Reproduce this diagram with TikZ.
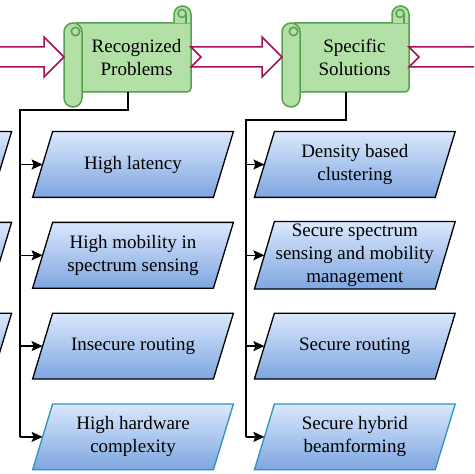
\documentclass[tikz,border=0pt]{standalone}
\usepackage{fontspec}
\setmainfont{Liberation Serif}
\usetikzlibrary{arrows.meta, positioning, calc}
\pgfdeclarelayer{background}
\pgfsetlayers{background,main}
\definecolor{flowpurple}{HTML}{A50F5A}
\definecolor{scrollfill}{HTML}{B3E0A6}
\definecolor{scrolledge}{HTML}{57A14E}
\definecolor{paratop}{HTML}{DAE8FC}
\definecolor{parabot}{HTML}{7EA6E0}
\definecolor{paraedge}{HTML}{2F93C0}
\newcommand{\diagfont}{\rmfamily\fontsize{9.5}{11.5}\selectfont}
\tikzset{
  para/.style   ={rectangle, minimum width=90pt, minimum height=32.5pt,
                  inner sep=1pt, align=center, font=\diagfont},
  paraframe/.style={draw=black, line width=0.65pt,
                  top color=paratop, bottom color=parabot},
  scrl/.style   ={minimum width=54.5pt, minimum height=34.5pt, inner sep=0pt,
                  align=center, font=\diagfont},
  scrollbody/.style={draw=scrolledge, fill=scrollfill, line width=0.75pt},
  flex/.style   ={draw=flowpurple, fill=white, line width=0.75pt, line join=miter},
  tree/.style   ={draw=black, line width=0.65pt},
  arr/.style    ={tree, -{Stealth[length=5.5pt, width=5pt, inset=1pt]}}
}
% scroll: name, centre of the text area, text
\newcommand{\scrollbox}[3]{%
  \begin{scope}[shift={(#2)}]
    \draw[scrollbody] (-60,34.5) -- (54.5,34.5) -- (54.5,-30.5)
      arc[start angle=0, end angle=-90, radius=2pt] -- (-60,-34.5) -- cycle;
    \filldraw[scrollbody] (37.5,34.5) -- (37.5,43)
      arc[start angle=180, end angle=0, radius=4.25pt] -- (54.5,34.5);
    \draw[scrollbody] (45.5,44) circle[radius=2pt];
    \draw[scrollbody] (49.5,44) -- (49.5,34.5);
    \filldraw[scrollbody, rounded corners=4.5pt] (-72.5,34.5) rectangle (-54.5,-49.5);
    \draw[scrollbody] (-61,26) circle[radius=2.1pt];
    \node[scrl] (#1) at (0,0) {#3};
    \coordinate (#1in) at (-72.5,0);
    \coordinate (#1out) at (54.5,0);
    \coordinate (#1foot) at (-8.5,-34.5);
  \end{scope}}
% hollow block arrow: tail, tip
\newcommand{\flexarr}[2]{%
  \draw[flex] ($(#1)+(0,10)$) -- ($(#2)+(-20,10)$) -- ($(#2)+(-20,20)$) -- (#2)
    -- ($(#2)+(-20,-20)$) -- ($(#2)+(-20,-10)$) -- ($(#1)+(0,-10)$)
    -- ($(#1)+(10,0)$) -- cycle;}
% slanted frame behind a para node
\newcommand{\paraback}[2][black]{%
  \draw[paraframe, draw=#1] ([xshift=-5pt]#2.south west) -- ([xshift=-5pt]#2.south east)
    -- ([xshift=5pt]#2.north east) -- ([xshift=5pt]#2.north west) -- cycle;}

\begin{document}
\begin{tikzpicture}[x=0.5pt, y=0.5pt, node distance=12.5pt and 20.5pt]
  \path[use as bounding box] (0,0) rectangle (474,-474);
  \clip (0,0) rectangle (474,-474);

  \coordinate (s0out) at (-27.5,-57);
  \coordinate (s3in) at (500.5,-57);
  \scrollbox{s1}{136.5,-57.5}{Recognized\\Problems}
  \scrollbox{s2}{354.5,-57.5}{Specific\\Solutions}
  \flexarr{s0out}{$(s1in)+(0,0.5)$}
  \flexarr{$(s1out)+(0,0.5)$}{$(s2in)+(0,0.5)$}
  \flexarr{$(s2out)+(0,0.5)$}{s3in}

  % problems
  \node[para] (p1) at (133,-164.5) {High latency};
  \node[para, below=of p1] (p2) {High mobility in\\spectrum sensing};
  \node[para, below=of p2] (p3) {Insecure routing};
  \node[para, below=of p3] (p4) {High hardware\\complexity};

  % solutions
  \node[para, right=of p1] (q1) {Density based\\clustering};
  \node[para, right=of p2] (q2) {Secure spectrum\\sensing and mobility\\management};
  \node[para, right=of p3] (q3) {Secure routing};
  \node[para, right=of p4] (q4) {Secure hybrid\\beamforming};

  % previous column, cut off
  \node[para, left=of p1] (o1) {};
  \node[para, left=of p2] (o2) {};
  \node[para, left=of p3] (o3) {};

  \begin{pgfonlayer}{background}
    \fill[white] (0,0) rectangle (474,-474);
    \foreach \n in {o1,o2,o3,p1,p2,p3,q1,q2,q3} {\paraback{\n}}
    \paraback[paraedge]{p4}
    \paraback[paraedge]{q4}
  \end{pgfonlayer}

  \coordinate (t1) at (20,-110);
  \coordinate (t2) at (246,-120);
  \draw[tree] (s1foot) |- (t1) -- (t1 |- p4.west);
  \draw[tree] (s2foot) |- (t2) -- (t2 |- q4.west);
  \draw[arr] (t1 |- p1.west) -- (p1.west);
  \draw[arr] (t1 |- p2.west) -- (p2.west);
  \draw[arr] (t1 |- p3.west) -- (p3.west);
  \draw[arr] (t1 |- p4.west) -- (p4.west);
  \draw[arr] (t2 |- q1.west) -- (q1.west);
  \draw[arr] (t2 |- q2.west) -- (q2.west);
  \draw[arr] (t2 |- q3.west) -- (q3.west);
  \draw[arr] (t2 |- q4.west) -- (q4.west);
\end{tikzpicture}
\end{document}
